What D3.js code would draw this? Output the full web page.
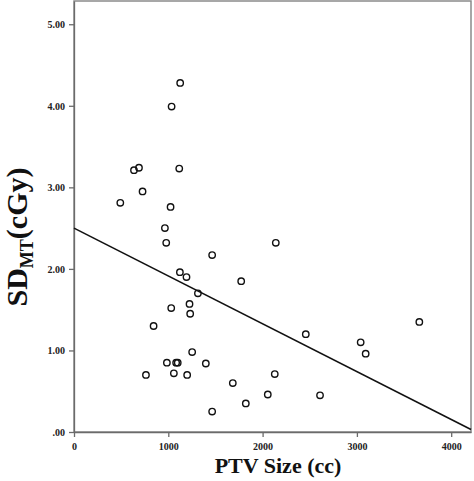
<!DOCTYPE html>
<html>
<head>
<meta charset="utf-8">
<script src="https://cdn.jsdelivr.net/npm/d3@7"></script>
<style>
body { margin: 0; background: #fff; }
svg { display: block; }
.axis text { font-family: "Liberation Serif", "DejaVu Serif", serif; font-weight: bold; font-size: 10px; fill: #222; }
.axis path, .axis line { stroke: #6b6b6b; stroke-width: 1.3; }
</style>
</head>
<body>
<svg width="474" height="481"></svg>
<script>
// PTV size (cc) and SD_MT (cGy)
var ptvSize = [1126, 1035, 636, 689, 1116, 727, 491, 1024, 964, 978,
    1465, 1123, 1193, 1773, 1314, 1225, 1031, 1232, 844, 1253,
    985, 1083, 1100, 1398, 763, 1059, 1200, 1684, 1822, 1465,
    2140, 3662, 2458, 3040, 3093, 2129, 2055, 2609];
var sdMT = [4.28, 3.99, 3.21, 3.24, 3.23, 2.95, 2.81, 2.76, 2.50, 2.32,
    2.17, 1.96, 1.90, 1.85, 1.70, 1.57, 1.52, 1.45, 1.30, 0.98,
    0.85, 0.85, 0.85, 0.84, 0.70, 0.72, 0.70, 0.60, 0.35, 0.25,
    2.32, 1.35, 1.20, 1.10, 0.96, 0.71, 0.46, 0.45];
var fitLine = [[0, 2.50], [4210, 0.03]];
var xTicks = [0, 1000, 2000, 3000, 4000];
var yTicks = [0, 1, 2, 3, 4, 5];

var svg = d3.select('svg');

var scaleX = d3.scaleLinear().domain([0, 4210]).range([74, 471]);
var scaleY = d3.scaleLinear().domain([0, 5.285]).range([432, 1]);

// plot frame
svg.append('rect')
    .attr('x', 74).attr('y', 1)
    .attr('width', 397).attr('height', 431)
    .attr('fill', 'none')
    .attr('stroke', '#8a8a8a')
    .attr('stroke-width', 1.5);

svg.append('g')
    .attr('class', 'axis')
    .attr('transform', 'translate(0,432)')
    .call(d3.axisBottom(scaleX).tickValues(xTicks).tickSize(5).tickSizeOuter(0).tickFormat(d3.format('d')))
    .selectAll('text').attr('dy', '1em');

svg.append('g')
    .attr('class', 'axis')
    .attr('transform', 'translate(74,0)')
    .call(d3.axisLeft(scaleY).tickValues(yTicks).tickSize(5).tickSizeOuter(0)
        .tickFormat(function(d){ return d == 0 ? '.00' : d3.format('.2f')(d); }))
    .selectAll('text').attr('dx', '-1px').attr('dy', '0.35em');

// regression line
svg.append('line')
    .attr('x1', scaleX(fitLine[0][0])).attr('y1', scaleY(fitLine[0][1]))
    .attr('x2', scaleX(fitLine[1][0])).attr('y2', scaleY(fitLine[1][1]))
    .attr('stroke', '#111')
    .attr('stroke-width', 1.6);

svg.selectAll('circle.pt')
    .data(ptvSize)
    .enter()
    .append('circle')
    .attr('class', 'pt')
    .attr('cx', function(d){ return scaleX(d); })
    .attr('cy', function(d, i){ return scaleY(sdMT[i]); })
    .attr('r', 3.2)
    .attr('fill', 'none')
    .attr('stroke', '#111')
    .attr('stroke-width', 1.4);

// axis titles
svg.append('text')
    .text('PTV Size (cc)')
    .attr('transform', 'translate(278,473)')
    .attr('font-family', '"Liberation Serif", serif')
    .attr('font-weight', 'bold')
    .attr('font-size', 22)
    .attr('fill', '#111')
    .style('text-anchor', 'middle');

var yTitle = svg.append('text')
    .attr('transform', 'translate(27,237) rotate(-90)')
    .attr('font-family', '"Liberation Serif", serif')
    .attr('font-weight', 'bold')
    .attr('font-size', 30)
    .attr('fill', '#111')
    .style('text-anchor', 'middle');
yTitle.append('tspan').text('SD');
yTitle.append('tspan').text('MT').attr('font-size', 18).attr('dy', 6);
yTitle.append('tspan').text('(cGy)').attr('dy', -6);
</script>
</body>
</html>
